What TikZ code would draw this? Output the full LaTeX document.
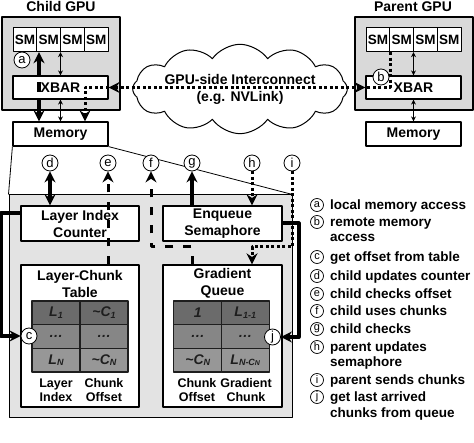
\documentclass[tikz,border=0pt]{standalone}
\usepackage{fontspec}
\setmainfont{Liberation Sans}
\usetikzlibrary{arrows.meta,shapes.symbols,calc}
\definecolor{gpufill}{HTML}{D9D9D9}
\definecolor{memfill}{HTML}{E3E3E3}
\definecolor{rowa}{HTML}{6B6B6B}
\definecolor{rowb}{HTML}{868686}
\definecolor{rowc}{HTML}{979797}
\definecolor{ink}{HTML}{1E1E1E}
\newcommand{\cellsub}[1]{\raisebox{-1.5pt}{\fontsize{9}{9}\selectfont#1}}

\begin{document}
\begin{tikzpicture}[x=1pt,y=-1pt,line join=round,font=\bfseries\fontsize{14}{17}\selectfont,
  >={Stealth[length=11pt,width=11pt]},
  box/.style={draw,fill=white,line width=1.2pt,inner sep=0pt,align=center},
  gpu/.style={draw,fill=gpufill,line width=1.8pt,minimum width=118,minimum height=93},
  smcell/.style={draw,fill=white,line width=1pt,minimum width=23.75,minimum height=24,inner sep=0pt,font=\bfseries\fontsize{13.5}{13.5}\selectfont},
  tag/.style={circle,draw,fill=white,line width=0.8pt,minimum size=16,inner sep=0pt,font=\mdseries\fontsize{13}{13}\selectfont},
  legtag/.style={circle,draw,line width=0.7pt,minimum size=13,inner sep=0pt,font=\mdseries\fontsize{11}{11}\selectfont},
  legtxt/.style={anchor=base west,inner sep=0pt,font=\bfseries\fontsize{13.5}{16}\selectfont},
  cell/.style={draw=ink,line width=1.2pt,minimum width=48,minimum height=23.67,inner sep=0pt,text=ink,font=\bfseries\itshape\fontsize{14}{14}\selectfont},
  colhead/.style={align=center,inner sep=0pt,font=\bfseries\fontsize{12.5}{14}\selectfont},
  heavy/.style={line width=4pt},
  link/.style={line width=1pt,{Stealth[length=5pt,width=5pt]}-{Stealth[length=5pt,width=5pt]}},
  dotline/.style={line width=3pt,dash pattern=on 3pt off 2.5pt},
  dashline/.style={line width=3pt,dash pattern=on 8pt off 10pt}]
\useasboundingbox (0,0) rectangle (474,443);

% child and parent gpu
\node[gpu] (cgpu) at (61,63.5) {};
\node[gpu] (pgpu) at (414,63.5) {};
\node (ctitle) at (61,7) {Child GPU};
\node (ptitle) at (413,7) {Parent GPU};
\foreach \i in {1,...,4}{
  \node[smcell] (csm\i) at (1.125+23.75*\i,40) {SM};
  \node[smcell] (psm\i) at (354.125+23.75*\i,40) {SM};
}
\node[inner sep=0pt,minimum width=95,minimum height=24] (csm) at (60.5,40) {};
\node[inner sep=0pt,minimum width=95,minimum height=24] (psm) at (413.5,40) {};
\node[box,minimum width=95,minimum height=23] (cxbar) at (60.5,87.5) {XBAR};
\node[box,minimum width=95,minimum height=23] (pxbar) at (413.5,87.5) {XBAR};
\node[box,minimum width=95,minimum height=24] (cmem) at (60.5,134) {Memory};
\node[box,minimum width=95,minimum height=24] (pmem) at (413.5,134) {Memory};
\node[cloud,cloud puffs=12,cloud puff arc=110,aspect=3.4,draw,fill=white,line width=1pt,
  inner sep=0pt,minimum width=214,minimum height=64,align=center] (nvl) at (240,89)
  {GPU-side Interconnect\\(e.g. NVLink)};

\coordinate (ca) at (39,0);
\coordinate (cb) at (85,0);
\coordinate (pb) at (390,0);
\draw[link] (csm.south) -- (cxbar.north);
\draw[link] (cxbar.south) -- (cmem.north);
\draw[link] (psm.south) -- (pxbar.north);
\draw[link] (pxbar.south) -- (pmem.north);
\draw[heavy,->] (ca |- cxbar.north) -- (ca |- csm.south);
\draw[heavy,->] (ca |- cxbar.south) -- (ca |- cmem.north);
\draw[heavy] ($(ca |- cxbar.center)+(0,-5.5)$) -- ($(ca |- cxbar.center)+(0,5)$);
\draw[dotline,<->] (cxbar.east) -- (pxbar.west);
\draw[dotline,->] (cxbar.east) -| (cb |- cmem.north);
\draw[dotline] (pb |- psm.south) |- (pxbar.west);
\node[tag] (ta) at (22,60) {a};
\node[tag] (tb) at (381,77) {b};

% memory contents
\node[draw,fill=memfill,line width=1pt,inner sep=0pt,minimum width=283,minimum height=223] (mview) at (150.5,306.5) {};
\draw[line width=0.8pt] (cmem.south west) -- (mview.north west) (cmem.south east) -- (mview.north east);
\node[box,minimum width=118,minimum height=35] (lic) at (80,223.5) {Layer Index\\Counter};
\node[box,minimum width=119,minimum height=35] (enq) at (222.5,223.5) {Enqueue\\Semaphore};
\node[box,minimum width=118,minimum height=142] (lct) at (80,336) {};
\node[box,minimum width=119,minimum height=142] (gq) at (222.5,336) {};
\node[align=center] (lcttitle) at (80,283.5) {Layer-Chunk\\Table};
\node[align=center] (gqtitle) at (222.5,283.5) {Gradient\\Queue};
\foreach \r/\y/\fc/\a/\b/\p/\q in {
  1/312.8/rowa/{L\cellsub{1}}/{\textasciitilde C\cellsub{1}}/{1}/{L\cellsub{1-1}},
  2/336.5/rowb/{\ldots}/{\ldots}/{\ldots}/{\ldots},
  3/360.2/rowc/{L\cellsub{N}}/{\textasciitilde C\cellsub{N}}/{\textasciitilde C\cellsub{N}}/{L\cellsub{N-C\fontsize{7}{7}\selectfont N}}}{
  \node[cell,fill=\fc] (lt\r) at (56,\y) {\a};
  \node[cell,fill=\fc] (lo\r) at (104,\y) {\b};
  \node[cell,fill=\fc] (qo\r) at (197.75,\y) {\p};
  \node[cell,fill=\fc] (qg\r) at (245.25,\y) {\q};
}
\node[colhead] (lidx) at (56,390) {Layer\\Index};
\node[colhead] (loff) at (104,390) {Chunk\\Offset};
\node[colhead] (qoff) at (197,390) {Chunk\\Offset};
\node[colhead] (qgrad) at (246,390) {Gradient\\Chunk};

\node[tag] (tc) at (29,336) {c};
\node[tag] (tj) at (272.5,337) {j};
\node[tag] (td) at (50,163) {d};
\node[tag] (te) at (108,163) {e};
\node[tag] (tf) at (151,163) {f};
\node[tag] (tg) at (192,163) {g};
\node[tag] (th) at (252,163) {h};
\node[tag] (ti) at (292,163) {i};
\coordinate (fbend) at (151,247);
\coordinate (ibend) at (292,247);
\draw[heavy,->] ($(lic.west)+(0,-10.5)$) -- ++(-19,0) |- (tc);
\draw[heavy,->] (enq.east) -- ++(16,0) |- (tj);
\draw[heavy,<->] (td) -- (td |- lic.north);
\draw[dashline,->] (te |- lct.north) -- (te);
\draw[dashline,->] (tg |- gq.north) |- (fbend) -- (tf);
\draw[heavy,->] (tg |- enq.north) -- (tg);
\draw[dotline,->] (th) -- (th |- enq.north);
\draw[dotline,->] (ti) -- (ibend) -| (th |- gq.north);

% legend
\foreach \c/\y in {a/205,b/222,c/257,d/276,e/294,f/311,g/329,h/347,i/380,j/397}
  \node[legtag] (k\c) at (317,\y) {\c};
\foreach \y/\t [count=\n] in {205/local memory access,222/remote memory,237/access,
  257/get offset from table,276/child updates counter,294/child checks offset,
  311/child uses chunks,329/child checks,347/parent updates,362/semaphore,
  380/parent sends chunks,397/get last arrived,413/chunks from queue}
  \node[legtxt] (kt\n) at (330,\y+4.5) {\t};
\end{tikzpicture}
\end{document}
